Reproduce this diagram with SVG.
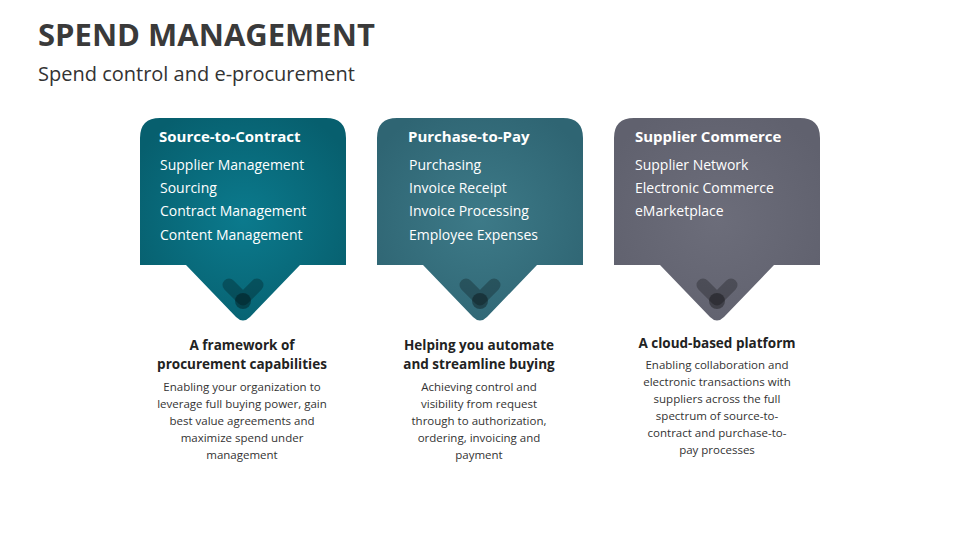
<svg xmlns="http://www.w3.org/2000/svg" width="960" height="540" viewBox="0 0 960 540">
<defs>
<radialGradient id="g1" cx="0.5" cy="0.5" r="0.6"><stop offset="0" stop-color="#0b7a8d"/><stop offset="1" stop-color="#075f6e"/></radialGradient>
<radialGradient id="g2" cx="0.5" cy="0.5" r="0.6"><stop offset="0" stop-color="#3d7a88"/><stop offset="1" stop-color="#2f6573"/></radialGradient>
<radialGradient id="g3" cx="0.5" cy="0.5" r="0.6"><stop offset="0" stop-color="#6c6d7a"/><stop offset="1" stop-color="#60616e"/></radialGradient>
<path id="shape" d="M0,20 Q0,0 20,0 L186,0 Q206,0 206,20 L206,147 L160,147 L110,199 Q103,206 96,199 L46,147 L0,147 Z"/>
</defs>
<style>
.t{font-family:"Open Sans","Liberation Sans",sans-serif;}
.h{font-size:15px;font-weight:bold;fill:#fff}
.i{font-size:14px;fill:#fff}
.sh{font-size:13.5px;font-weight:bold;fill:#222;text-anchor:middle}
.d{font-size:11.5px;fill:#333;text-anchor:middle}
.v{fill:none;stroke:#000;stroke-opacity:0.25;stroke-width:13;stroke-linecap:round;stroke-linejoin:round}
</style>
<rect width="960" height="540" fill="#fff"/>
<text class="t" x="38" y="46" font-size="31" font-weight="bold" fill="#3a3a3a">SPEND MANAGEMENT</text>
<text class="t" x="38" y="81" font-size="20" fill="#333">Spend control and e-procurement</text>
<g id="n1">
<use href="#shape" x="140" y="118" fill="url(#g1)"/>
<path class="v" d="M229,285 L243,299 L257,285"/><circle cx="243" cy="301" r="8" fill="#000" fill-opacity="0.35"/>
<text class="t h" x="159" y="142">Source-to-Contract</text>
<text class="t i" x="160" y="170">Supplier Management</text>
<text class="t i" x="160" y="193">Sourcing</text>
<text class="t i" x="160" y="216">Contract Management</text>
<text class="t i" x="160" y="240">Content Management</text>
<text class="t sh" x="242" y="350">A framework of</text>
<text class="t sh" x="242" y="369">procurement capabilities</text>
<text class="t d" x="242" y="391">Enabling your organization to</text>
<text class="t d" x="242" y="408">leverage full buying power, gain</text>
<text class="t d" x="242" y="425">best value agreements and</text>
<text class="t d" x="242" y="442">maximize spend under</text>
<text class="t d" x="242" y="459">management</text>
</g>
<g id="n2">
<use href="#shape" x="377" y="118" fill="url(#g2)"/>
<path class="v" d="M466,285 L480,299 L494,285"/><circle cx="480" cy="301" r="8" fill="#000" fill-opacity="0.35"/>
<text class="t h" x="408" y="142">Purchase-to-Pay</text>
<text class="t i" x="409" y="170">Purchasing</text>
<text class="t i" x="409" y="193">Invoice Receipt</text>
<text class="t i" x="409" y="216">Invoice Processing</text>
<text class="t i" x="409" y="240">Employee Expenses</text>
<text class="t sh" x="479" y="350">Helping you automate</text>
<text class="t sh" x="479" y="369">and streamline buying</text>
<text class="t d" x="479" y="391">Achieving control and</text>
<text class="t d" x="479" y="408">visibility from request</text>
<text class="t d" x="479" y="425">through to authorization,</text>
<text class="t d" x="479" y="442">ordering, invoicing and</text>
<text class="t d" x="479" y="459">payment</text>
</g>
<g id="n3">
<use href="#shape" x="614" y="118" fill="url(#g3)"/>
<path class="v" d="M703,285 L717,299 L731,285"/><circle cx="717" cy="301" r="8" fill="#000" fill-opacity="0.35"/>
<text class="t h" x="635" y="142">Supplier Commerce</text>
<text class="t i" x="635" y="170">Supplier Network</text>
<text class="t i" x="635" y="193">Electronic Commerce</text>
<text class="t i" x="635" y="216">eMarketplace</text>
<text class="t sh" x="717" y="348" font-size="12">A cloud-based platform</text>
<text class="t d" x="717" y="369">Enabling collaboration and</text>
<text class="t d" x="717" y="386">electronic transactions with</text>
<text class="t d" x="717" y="403">suppliers across the full</text>
<text class="t d" x="717" y="420">spectrum of source-to-</text>
<text class="t d" x="717" y="437">contract and purchase-to-</text>
<text class="t d" x="717" y="454">pay processes</text>
</g>
<g id="connectors"/>
</svg>
